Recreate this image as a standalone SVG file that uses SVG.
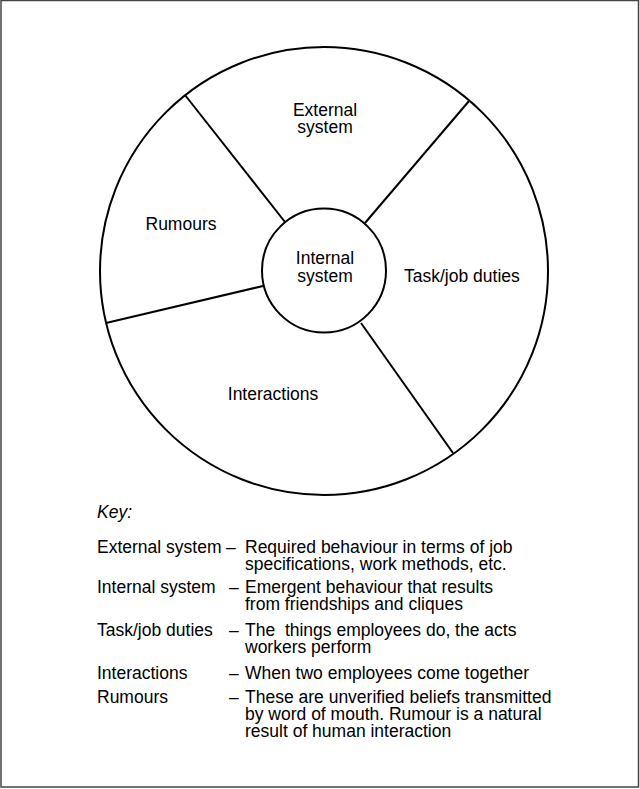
<svg xmlns="http://www.w3.org/2000/svg" width="640" height="789" viewBox="0 0 640 789">
<style>
.ln{fill:none;stroke:#000;stroke-width:2}
.t{font-family:"Liberation Sans",Arial,Helvetica,sans-serif;font-size:17.5px;fill:#000}
.c{text-anchor:middle}
</style>
<rect x="0" y="0" width="640" height="789" fill="#fff"/>
<rect x="1" y="0.5" width="637.5" height="786.5" fill="none" stroke="#444" stroke-width="1.5"/>
<g id="connectors">
<line class="ln" x1="185" y1="95" x2="285" y2="222"/>
<line class="ln" x1="469" y1="101" x2="365" y2="223"/>
<line class="ln" x1="106" y1="323" x2="263" y2="286"/>
<line class="ln" x1="453" y1="453" x2="361" y2="323"/>
</g>
<g id="outer">
<circle class="ln" cx="324" cy="271" r="224"/>
</g>
<g id="external-system">
<text class="t c" x="325" y="116">External</text>
<text class="t c" x="325" y="133">system</text>
</g>
<g id="rumours">
<text class="t c" x="181" y="230">Rumours</text>
</g>
<g id="internal-system">
<circle class="ln" cx="324" cy="270.5" r="62"/>
<text class="t c" x="325" y="264">Internal</text>
<text class="t c" x="325" y="282">system</text>
</g>
<g id="task-job-duties">
<text class="t" x="404" y="282">Task/job duties</text>
</g>
<g id="interactions">
<text class="t c" x="273" y="400">Interactions</text>
</g>
<g id="key">
<text class="t" x="97" y="518" font-style="italic">Key:</text>
<text class="t" x="97" y="553">External system</text>
<text class="t" x="226" y="553">–</text>
<text class="t" x="245" y="553">Required behaviour in terms of job</text>
<text class="t" x="245" y="570">specifications, work methods, etc.</text>
<text class="t" x="97" y="593">Internal system</text>
<text class="t" x="229" y="593">–</text>
<text class="t" x="245" y="593">Emergent behaviour that results</text>
<text class="t" x="245" y="610">from friendships and cliques</text>
<text class="t" x="97" y="636">Task/job duties</text>
<text class="t" x="229" y="636">–</text>
<text class="t" x="245" y="636" xml:space="preserve">The  things employees do, the acts</text>
<text class="t" x="245" y="653">workers perform</text>
<text class="t" x="97" y="679">Interactions</text>
<text class="t" x="229" y="679">–</text>
<text class="t" x="245" y="679">When two employees come together</text>
<text class="t" x="97" y="703">Rumours</text>
<text class="t" x="229" y="703">–</text>
<text class="t" x="245" y="703">These are unverified beliefs transmitted</text>
<text class="t" x="245" y="720">by word of mouth. Rumour is a natural</text>
<text class="t" x="245" y="737">result of human interaction</text>
</g>
</svg>
